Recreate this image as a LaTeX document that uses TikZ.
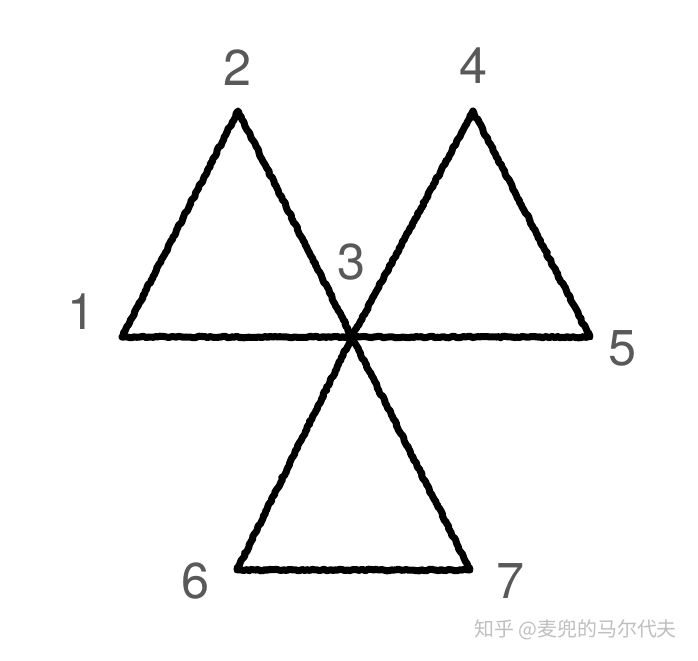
\documentclass[tikz,border=0pt]{standalone}
\usepackage{fontspec}
\setmainfont{TeX Gyre Heros}
\newfontfamily\cjk{Noto Sans CJK SC}
\usetikzlibrary{decorations.pathmorphing}

\begin{document}
\begin{tikzpicture}[x=0.03cm,y=-0.03cm,
  edge/.style={draw=black,line width=6pt,line join=round,line cap=round,
    decorate,decoration={random steps,segment length=2pt,amplitude=0.7pt}},
  num/.style={text=black!65,font=\fontsize{43}{43}\selectfont,inner sep=0pt}]
\useasboundingbox[fill=white] (0,0) rectangle (698,660);

% define the corners
  \coordinate (v1) at (122,337);
  \coordinate (v2) at (238,111);
  \coordinate (v3) at (352,337);
  \coordinate (v4) at (473,111);
  \coordinate (v5) at (590,337);
  \coordinate (v6) at (237,570);
  \coordinate (v7) at (470,570);

% define the labels
  \node[num] (l1) at (82,312) {1};
  \node[num] (l2) at (238,68) {2};
  \node[num] (l3) at (352,262) {3};
  \node[num] (l4) at (473,66) {4};
  \node[num] (l5) at (622,348) {5};
  \node[num] (l6) at (196,581) {6};
  \node[num] (l7) at (510,581) {7};

% define the triangles
  \path[edge] (v1) -- (v2) -- (v3) -- cycle;
  \path[edge] (v3) -- (v4) -- (v5) -- cycle;
  \path[edge] (v3) -- (v6) -- (v7) -- cycle;

  \node[text=black!25,font=\cjk\fontsize{17}{17}\selectfont,anchor=east]
    (mark) at (681,630) {知乎 @麦兜的马尔代夫};
\end{tikzpicture}
\end{document}
